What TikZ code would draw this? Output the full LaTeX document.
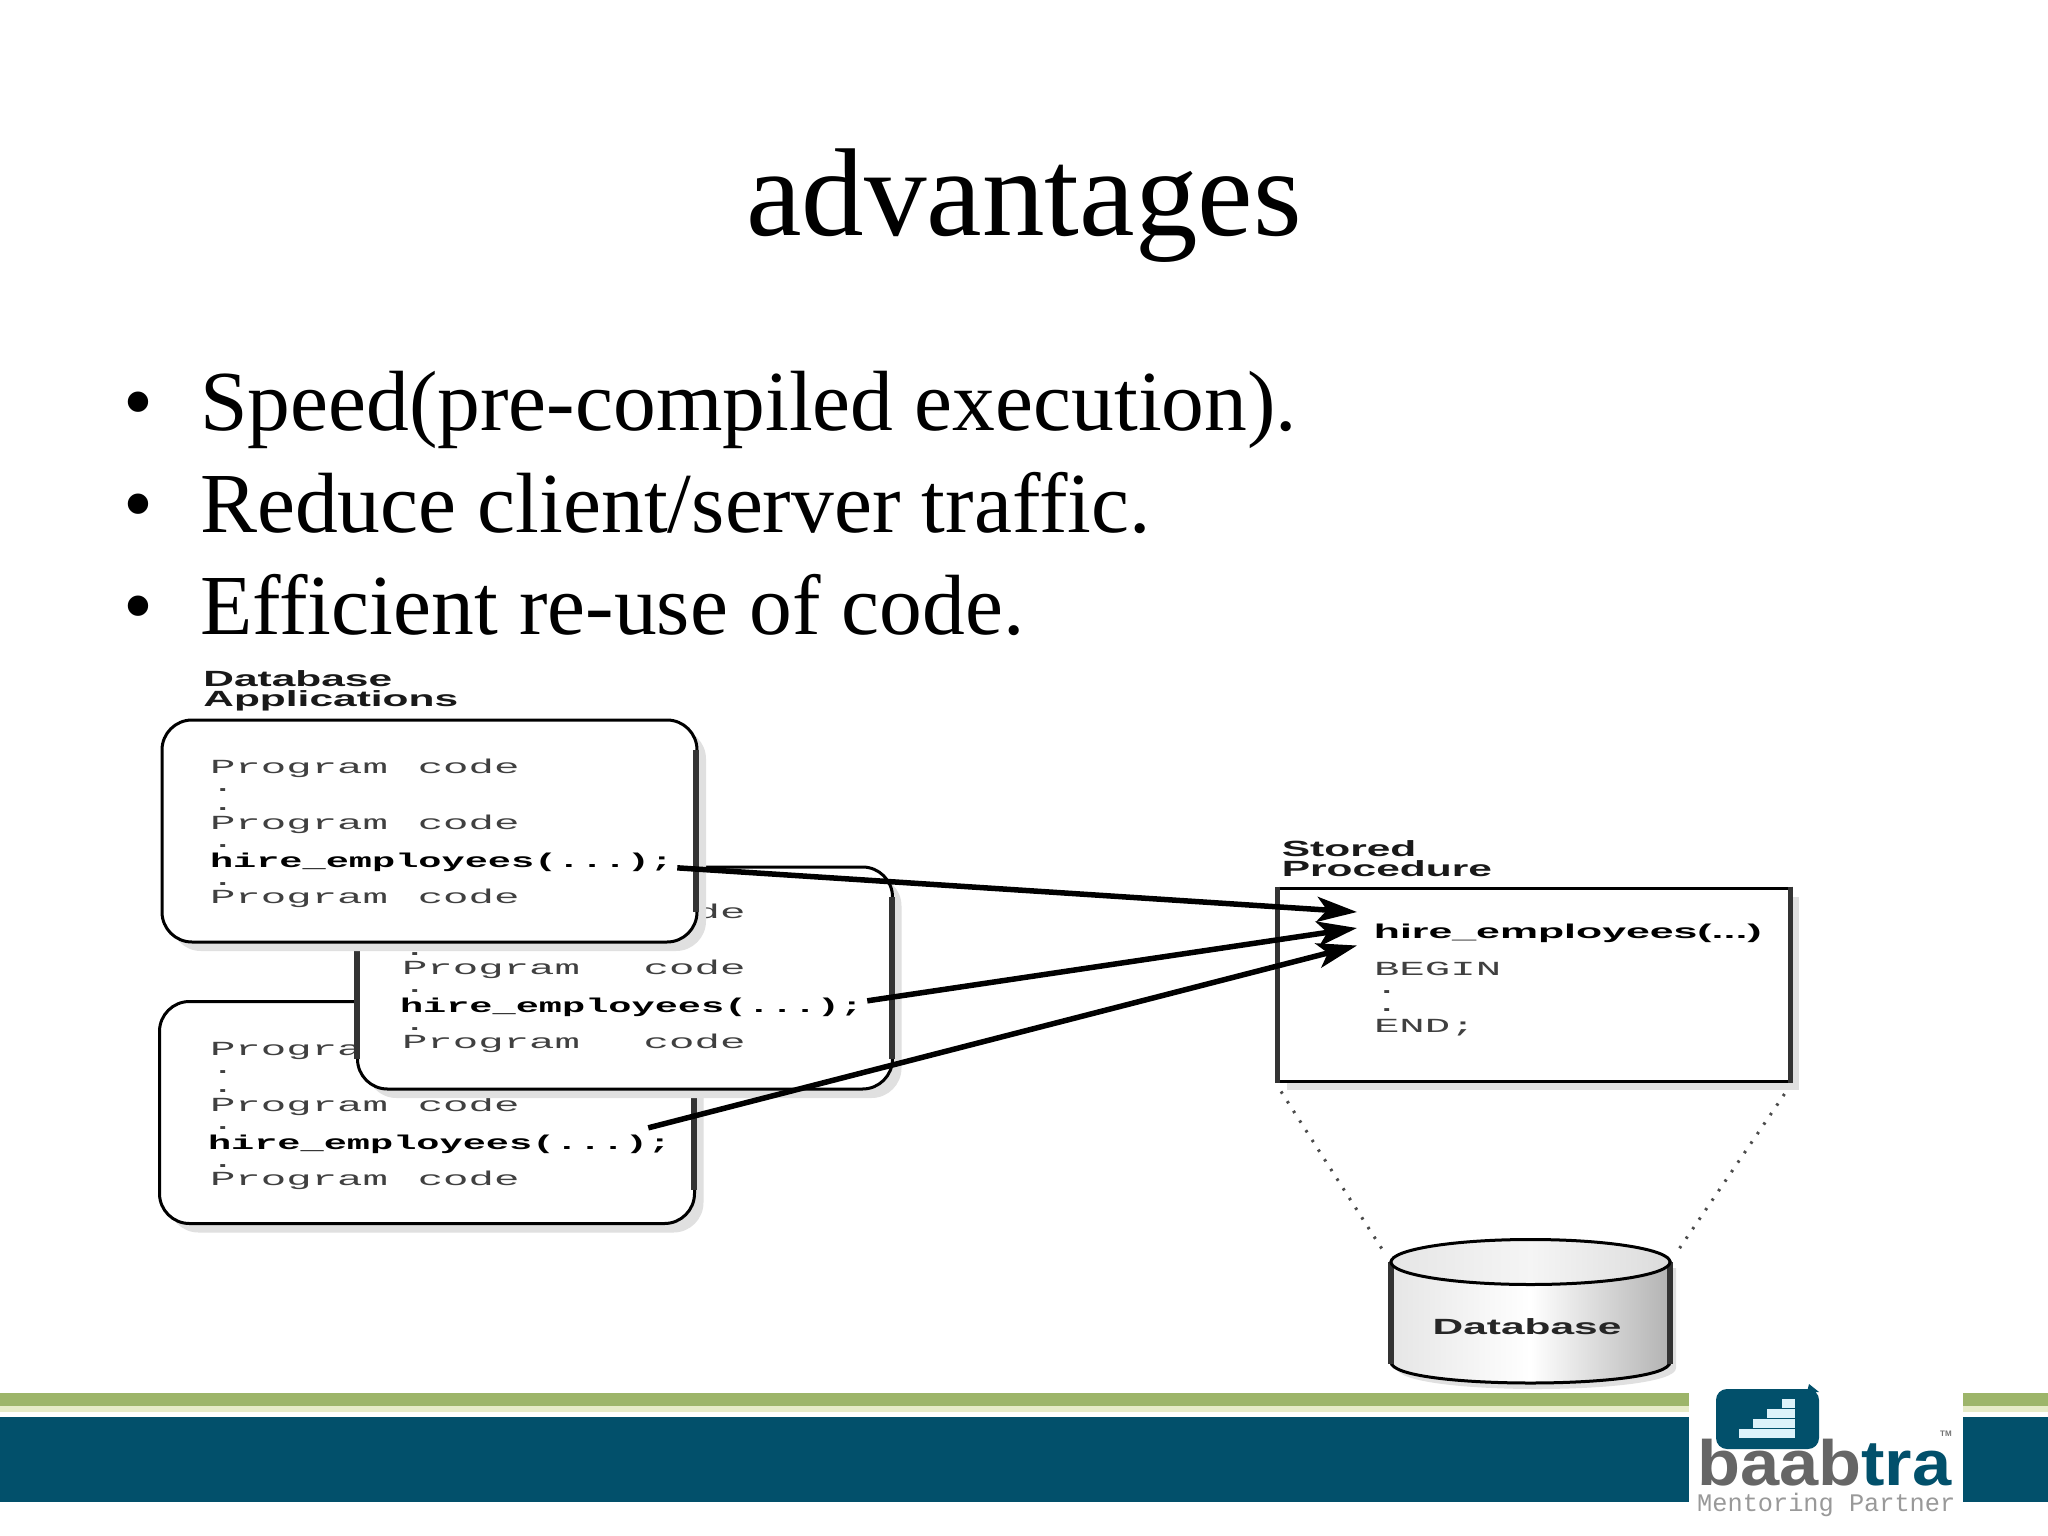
\documentclass[tikz,border=0pt]{standalone}
\usepackage{fontspec}
\usetikzlibrary{arrows.meta,shadows}
\setmainfont{Liberation Serif}
\newfontfamily\monofnt{Liberation Mono}
\newfontfamily\sansfnt{Liberation Sans}
\definecolor{bandgreen}{HTML}{9DB56A}
\definecolor{bandpale}{HTML}{E6EBC8}
\definecolor{bandteal}{HTML}{02506B}
\definecolor{logogrey}{HTML}{666666}
\definecolor{stair}{HTML}{DDF2FA}
\definecolor{edgedark}{HTML}{333333}
\tikzset{
  titletext/.style={anchor=base,inner sep=0pt,font=\fontsize{125}{125}\selectfont},
  bullettext/.style={anchor=base west,inner sep=0pt,font=\fontsize{85.5}{85.5}\selectfont},
  codeline/.style={anchor=base west,inner sep=0pt,outer sep=0pt,xscale=2.12,text=black!75,font=\monofnt\fontsize{20}{20}\selectfont},
  hireline/.style={anchor=base west,inner sep=0pt,outer sep=0pt,xscale=1.93,text=black,font=\monofnt\bfseries\fontsize{20}{20}\selectfont},
  headlabel/.style={anchor=base west,inner sep=0pt,xscale=1.93,text=black!90,font=\sansfnt\bfseries\fontsize{22}{22}\selectfont},
  shadowed/.style={general shadow={shadow xshift=9pt,shadow yshift=-9pt,fill=black!12}},
  appbox/.style={draw=black,line width=3pt,fill=white,rounded corners=30pt,minimum width=535pt,minimum height=222pt,inner sep=0pt,shadowed},
  procbox/.style={draw=black,line width=3pt,fill=white,minimum width=512pt,minimum height=193pt,inner sep=0pt,shadowed},
  thickedge/.style={draw=edgedark,line width=5.5pt},
  callarrow/.style={draw=black,line width=5.5pt,-{Stealth[length=40pt,width=25pt,inset=10pt]}},
  zoomline/.style={draw=black!70,line width=3pt,dash pattern=on 2.5pt off 9pt},
  bandgreenbar/.style={fill=bandgreen,draw=none},
  bandpalebar/.style={fill=bandpale,draw=none},
  bandtealbar/.style={fill=bandteal,draw=none},
  stairbar/.style={fill=stair,draw=none}
}
\newcommand{\codelines}[5]{%
  \node[codeline] (#1a) at (#2,#3) {Program\hspace{#4}code};
  \node[codeline] (#1b) at (#2,{#3+18.7}) {.};
  \node[codeline] (#1c) at (#2,{#3+37.4}) {.};
  \node[codeline] (#1d) at (#2,{#3+56.1}) {Program\hspace{#4}code};
  \node[codeline] (#1e) at (#2,{#3+74.8}) {.};
  \node[hireline] (hire#1) at (#2-#5,{#3+94}) {hire\_employees(...);};
  \node[codeline] (#1f) at (#2,{#3+112.2}) {.};
  \node[codeline] (#1g) at (#2,{#3+130.9}) {Program\hspace{#4}code};
}
\begin{document}
\begin{tikzpicture}[x=1pt,y=-1pt]
\useasboundingbox[fill=white] (0,0) rectangle (2048,1536);

% title and bullets
\node[titletext] (title) at (1024,235) {advantages};
\node[bullettext] (b1) at (123,430) {•};
\node[bullettext] (t1) at (200,430) {Speed(pre-compiled execution).};
\node[bullettext] (b2) at (123,532) {•};
\node[bullettext] (t2) at (200,532) {Reduce client/server traffic.};
\node[bullettext] (b3) at (123,634) {•};
\node[bullettext] (t3) at (200,634) {Efficient re-use of code.};

% footer bands
\fill[bandpalebar] (0,1406) rectangle (1689,1412);
\fill[bandpalebar] (1963,1406) rectangle (2048,1412);
\fill[bandgreenbar] (0,1393) rectangle (1689,1406);
\fill[bandgreenbar] (1963,1393) rectangle (2048,1406);
\fill[bandtealbar] (0,1417) rectangle (1689,1502);
\fill[bandtealbar] (1963,1417) rectangle (2048,1502);

% application boxes
\node[headlabel] (lab1) at (203,686) {Database};
\node[headlabel] (lab2) at (203,706.5) {Applications};

\node[appbox] (boxC) at (427,1112.5) {};
\draw[thickedge] (694,1035) -- (694,1190);
\codelines{C}{210}{1055}{14pt}{2}

\node[appbox] (boxB) at (625,978) {};
\draw[thickedge] (892,897) -- (892,1059);
\draw[thickedge] (357,940) -- (357,1059);
\codelines{B}{402}{918}{30pt}{2}

\node[appbox] (boxA) at (429.5,831) {};
\draw[thickedge] (696,750) -- (696,912);
\codelines{A}{210}{773}{14pt}{0}

% stored procedure
\node[headlabel] (lab3) at (1281.5,856) {Stored};
\node[headlabel] (lab4) at (1281.5,876) {Procedure};
\node[procbox] (proc) at (1534,984.5) {};
\draw[thickedge] ([xshift=-1pt]proc.north east) -- ([xshift=-1pt]proc.south east);
\draw[thickedge] ([xshift=1pt]proc.north west) -- ([xshift=1pt]proc.south west);
\node[anchor=base west,inner sep=0pt,xscale=2.14,font=\sansfnt\bfseries\fontsize{20}{20}\selectfont] (prochire) at (1373.5,938) {hire\_employees(...)};
\node[codeline] (begin) at (1374,975) {BEGIN};
\node[codeline] (d1) at (1374,993) {.};
\node[codeline] (d2) at (1374,1011) {.};
\node[codeline] (endl) at (1374,1032) {END;};

% arrows
\coordinate (tipA) at (1357,912);
\coordinate (tipB) at (1357,928);
\coordinate (tipC) at (1357,945.5);
\draw[callarrow] ([shift={(4,6)}]hireA.east) -- (tipA);
\draw[callarrow] ([shift={(4,-6)}]hireB.east) -- (tipB);
\draw[callarrow] ([shift={(-23,-16)}]hireC.east) -- (tipC);

% database cylinder
\fill[black!12] (1397,1268) -- (1397,1368) .. controls (1397,1396) and (1676,1396) .. (1676,1368) -- (1676,1268) -- cycle;
\draw[line width=3pt,left color=black!10,right color=black!30,middle color=white]
  (1391,1262) -- (1391,1362) .. controls (1391,1390) and (1670,1390) .. (1670,1362) -- (1670,1262) -- cycle;
\draw[thickedge] (1391,1262) -- (1391,1364);
\draw[thickedge] (1670,1262) -- (1670,1364);
\draw[line width=3pt,left color=black!10,right color=black!14,middle color=black!4] (1530.5,1262) ellipse [x radius=139.5,y radius=22.5];
\node[anchor=base,inner sep=0pt,xscale=1.93,font=\sansfnt\bfseries\fontsize{22}{22}\selectfont,text=black!85] (db) at (1527,1334) {Database};
\coordinate (dbL) at (1382,1249);
\coordinate (dbR) at (1678,1250.5);
\draw[zoomline] ([shift={(4.5,9)}]proc.south west) -- (dbL);
\draw[zoomline] ([shift={(-7,11.5)}]proc.south east) -- (dbR);

% logo
\fill[bandteal,rounded corners=11pt] (1716,1389) rectangle (1819,1449);
\fill[bandteal] (1809,1384) -- (1819,1392) -- (1807,1392) -- cycle;
\fill[stairbar] (1739,1429) rectangle (1795,1438);
\fill[stairbar] (1753,1419) rectangle (1795,1428);
\fill[stairbar] (1767,1409) rectangle (1795,1418);
\fill[stairbar] (1782,1399) rectangle (1795,1408);
\node[anchor=base west,inner sep=0pt,xscale=1.1,font=\sansfnt\bfseries\fontsize{64}{64}\selectfont] (logo) at (1697,1485) {\textcolor{logogrey}{baab}\textcolor{bandteal}{tra}};
\node[anchor=center,inner sep=0pt,text=black!55,font=\sansfnt\bfseries\fontsize{8}{8}\selectfont] (tm) at (1946,1434) {TM};
\node[anchor=base west,inner sep=0pt,text=black!40,font=\monofnt\fontsize{25.3}{25.3}\selectfont] (mentor) at (1697,1511) {Mentoring Partner};
\end{tikzpicture}
\end{document}
